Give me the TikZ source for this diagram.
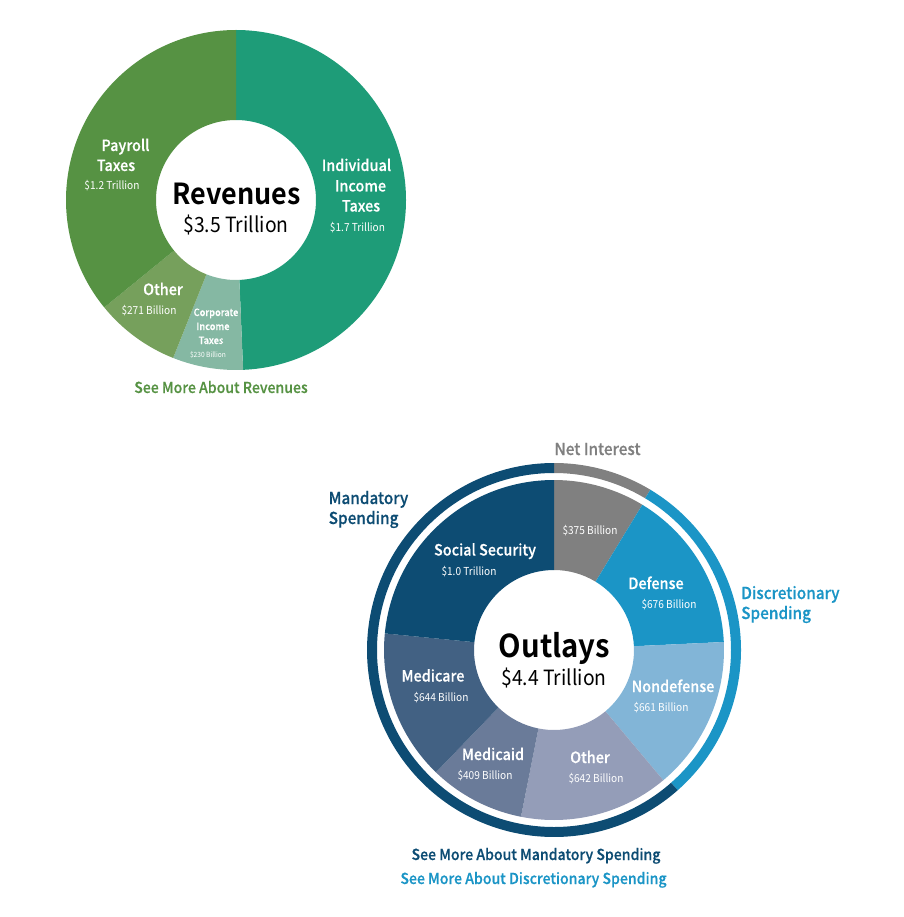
\documentclass[tikz,border=0pt]{standalone}
\usepackage{fontspec}
\setmainfont{Noto Sans CJK SC}[FakeStretch=0.92,BoldFont={Noto Sans CJK SC Bold},BoldFeatures={FakeStretch=0.93}]
\newfontfamily\semifont{Noto Sans CJK SC Medium}[FakeStretch=0.93,FakeBold=0.45]
\definecolor{revteal}{HTML}{1E9C78}
\definecolor{revgreen}{HTML}{569243}
\definecolor{revother}{HTML}{76A05C}
\definecolor{revcorp}{HTML}{85B8A3}
\definecolor{navy}{HTML}{0D4C73}
\definecolor{netgray}{HTML}{808080}
\definecolor{defblue}{HTML}{1B95C6}
\definecolor{nondef}{HTML}{82B5D7}
\definecolor{othout}{HTML}{949DB8}
\definecolor{medicaid}{HTML}{6A7B99}
\definecolor{medicare}{HTML}{426183}
\newcommand{\ringslice}[5]{\fill[#1] (#2:#4) arc[start angle=#2,end angle=#3,radius=#4] -- (#3:#5) arc[start angle=#3,end angle=#2,radius=#5] -- cycle;}
\tikzset{
  lab/.style={anchor=base,text=white,inner sep=0pt,font=\fontsize{15.5}{18}\selectfont\semifont},
  val/.style={anchor=base,text=white,inner sep=0pt,font=\fontsize{11}{13}\selectfont},
  smalllab/.style={anchor=base,text=white,inner sep=0pt,font=\fontsize{10}{12}\selectfont\semifont},
  smallval/.style={anchor=base,text=white,inner sep=0pt,font=\fontsize{7.2}{9}\selectfont},
  title/.style={anchor=base,text=black,inner sep=0pt,font=\fontsize{31.5}{36}\selectfont\bfseries},
  total/.style={anchor=base,text=black,inner sep=0pt,font=\fontsize{21}{25}\selectfont},
  link/.style={anchor=base,inner sep=0pt,font=\fontsize{15.15}{18}\selectfont\semifont},
  side/.style={anchor=base west,inner sep=0pt,font=\fontsize{16.5}{20}\selectfont\semifont},
}
\begin{document}
\begin{tikzpicture}[x=1pt,y=-1pt]
\useasboundingbox (0,0) rectangle (903,917);
\begin{scope}[shift={(236,200)},yscale=-1]
\ringslice{revteal}{90}{-87.6}{170}{80}
\ringslice{revcorp}{-87.6}{-111.7}{170}{80}
\ringslice{revother}{-111.7}{-140.8}{170}{80}
\ringslice{revgreen}{-140.8}{-270}{170}{80}
\end{scope}
\node[lab] (payroll) at (125.5,151) {Payroll};
\node[lab] (ptaxes) at (116,171) {Taxes};
\node[val] (pval) at (112,190) {\$1.2 Trillion};
\node[lab] (indiv) at (356.5,171) {Individual};
\node[lab] (iincome) at (360.5,191.5) {Income};
\node[lab] (itaxes) at (361,211.5) {Taxes};
\node[val] (ival) at (357.5,231) {\$1.7 Trillion};
\node[lab] (rother) at (163,295) {Other};
\node[val] (rotherval) at (149,314) {\$271 Billion};
\node[smalllab] (corp) at (216,316) {Corporate};
\node[smalllab] (cincome) at (213,330) {Income};
\node[smalllab] (ctaxes) at (211,344) {Taxes};
\node[smallval] (cval) at (208,357) {\$230 Billion};
\node[title,font=\fontsize{29}{34}\selectfont\bfseries] (rev) at (236.5,205) {Revenues};
\node[total] (revtotal) at (236,232.5) {\$3.5 Trillion};
\node[link,text=revgreen] (revlink) at (221,393) {See More About Revenues};
\begin{scope}[shift={(554,650)},yscale=-1]
\ringslice{netgray}{90}{58.7}{170}{80}
\ringslice{defblue}{58.7}{2.7}{170}{80}
\ringslice{nondef}{2.7}{-50}{170}{80}
\ringslice{othout}{-50}{-101.2}{170}{80}
\ringslice{medicaid}{-101.2}{-134}{170}{80}
\ringslice{medicare}{-134}{-185.6}{170}{80}
\ringslice{navy}{-185.6}{-270}{170}{80}
\ringslice{netgray}{90}{59}{187}{177}
\ringslice{defblue}{59}{-48.6}{187}{177}
\ringslice{navy}{-48.6}{-270}{187}{177}
\end{scope}
\node[val] (nval) at (590,534) {\$375 Billion};
\node[lab] (def) at (656,589) {Defense};
\node[val] (defval) at (669,608) {\$676 Billion};
\node[lab] (nond) at (673,692) {Nondefense};
\node[val] (nondval) at (661,711) {\$661 Billion};
\node[lab] (oth) at (590,763) {Other};
\node[val] (othval) at (596,782) {\$642 Billion};
\node[lab] (mcaid) at (493,760) {Medicaid};
\node[val] (mcaidval) at (485,779) {\$409 Billion};
\node[lab] (mcare) at (433,681.5) {Medicare};
\node[val] (mcareval) at (441,701) {\$644 Billion};
\node[lab] (ss) at (485,555.5) {Social Security};
\node[val] (ssval) at (469,575) {\$1.0 Trillion};
\node[title] (out) at (554.5,657) {Outlays};
\node[total] (outtotal) at (554,685) {\$4.4 Trillion};
\node[side,anchor=base,text=netgray] (net) at (597.5,455) {Net Interest};
\node[side,text=navy] (mand) at (328.5,504) {Mandatory};
\node[side,text=navy] (mand2) at (328.5,524) {Spending};
\node[side,text=defblue] (disc) at (741,599) {Discretionary};
\node[side,text=defblue] (disc2) at (741,619) {Spending};
\node[link,text=navy] (mlink) at (536,860) {See More About Mandatory Spending};
\node[link,text=defblue] (dlink) at (533.5,884) {See More About Discretionary Spending};
\end{tikzpicture}
\end{document}
